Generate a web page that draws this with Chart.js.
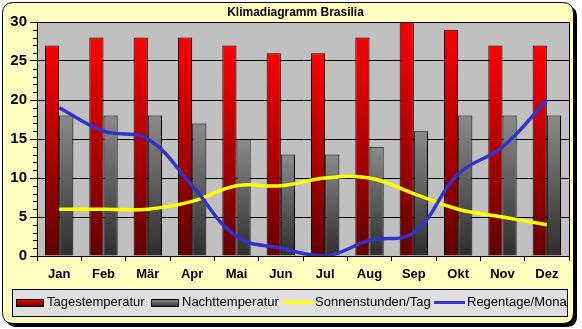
<!DOCTYPE html>
<html>
<head>
<meta charset="utf-8">
<script src="https://cdn.jsdelivr.net/npm/chart.js@4"></script>
<style>
html,body{margin:0;padding:0;background:#fff;}
#wrap{width:582px;height:329px;position:relative;}
</style>
</head>
<body>
<div id="wrap"><canvas id="c" width="582" height="329"></canvas></div>
<script>
const months = ['Jan','Feb','Mär','Apr','Mai','Jun','Jul','Aug','Sep','Okt','Nov','Dez'];
const tagestemperatur = [27, 28, 28, 28, 27, 26, 26, 28, 30, 29, 27, 27];
const nachttemperatur = [18, 18, 18, 17, 15, 13, 13, 14, 16, 18, 18, 18];
const sonnenstunden = [6, 6, 6, 7, 9, 9, 10, 10, 8, 6, 5, 4];
const regentage = [19, 16, 15, 9, 2.5, 1, 0, 2, 3, 10.5, 14, 20];
const seriesNames = ['Tagestemperatur','Nachttemperatur','Sonnenstunden/Tag','Regentage/Monat'];
const chartTitle = 'Klimadiagramm Brasilia';
const yTicks = [0, 5, 10, 15, 20, 25, 30];

const FONT = '"Liberation Sans", Arial, sans-serif';

function barGradient(top, bottom) {
  return (ctx) => {
    const chart = ctx.chart;
    if (!chart.chartArea || ctx.raw === undefined) return top;
    const y = chart.scales.y;
    const y0 = y.getPixelForValue(ctx.raw);
    const y1 = y.getPixelForValue(0);
    if (!isFinite(y0) || !isFinite(y1) || y0 === y1) return top;
    const g = chart.ctx.createLinearGradient(0, y0, 0, y1);
    g.addColorStop(0, top);
    g.addColorStop(1, bottom);
    return g;
  };
}

function roundRect(c, x, y, w, h, r) {
  c.beginPath();
  c.moveTo(x + r, y);
  c.lineTo(x + w - r, y);
  c.quadraticCurveTo(x + w, y, x + w, y + r);
  c.lineTo(x + w, y + h - r);
  c.quadraticCurveTo(x + w, y + h, x + w - r, y + h);
  c.lineTo(x + r, y + h);
  c.quadraticCurveTo(x, y + h, x, y + h - r);
  c.lineTo(x, y + r);
  c.quadraticCurveTo(x, y, x + r, y);
  c.closePath();
}

const framePlugin = {
  id: 'frame',
  beforeDraw(chart) {
    const c = chart.ctx;
    const a = chart.chartArea;
    c.save();
    c.fillStyle = '#000';
    roundRect(c, 6, 6, 571, 321, 11);
    c.fill();
    c.fillStyle = '#FFFFC0';
    roundRect(c, 2.5, 2.5, 571, 321, 11);
    c.fill();
    c.lineWidth = 1;
    c.strokeStyle = '#000';
    c.stroke();
    c.fillStyle = '#C0C0C0';
    c.fillRect(a.left, a.top, a.right - a.left, a.bottom - a.top);
    // title
    c.fillStyle = '#000';
    c.font = 'bold 12px ' + FONT;
    c.textAlign = 'center';
    c.textBaseline = 'middle';
    c.fillText(chartTitle, 295.5, 13);
    c.restore();
  },
  afterDraw(chart) {
    const c = chart.ctx;
    const a = chart.chartArea;
    const ys = chart.scales.y;
    c.save();
    c.strokeStyle = '#000';
    c.lineWidth = 1;
    // minor ticks
    for (let v = ys.min; v <= ys.max; v++) {
      if (v % 5 === 0) continue;
      const py = Math.round(ys.getPixelForValue(v)) + 0.5;
      c.beginPath();
      c.moveTo(a.left - 4, py);
      c.lineTo(a.left, py);
      c.stroke();
    }
    c.strokeRect(Math.round(a.left) + 0.5, Math.round(a.top) + 0.5, Math.round(a.right - a.left), Math.round(a.bottom - a.top));
    // legend box
    c.fillStyle = '#E0E0E0';
    c.fillRect(12, 289, 555, 27);
    c.strokeRect(12.5, 289.5, 555, 27);
    c.beginPath();
    c.rect(13, 290, 554, 26);
    c.clip();
    const cy = 302.5;
    c.font = '13px ' + FONT;
    c.textBaseline = 'middle';
    c.textAlign = 'left';
    let g = c.createLinearGradient(0, 299, 0, 306);
    g.addColorStop(0, '#FF0000'); g.addColorStop(1, '#700000');
    c.fillStyle = g;
    c.fillRect(16, 299, 27, 7);
    c.strokeRect(16.5, 299.5, 27, 7);
    c.fillStyle = '#000';
    c.fillText(seriesNames[0], 47, cy);
    g = c.createLinearGradient(0, 299, 0, 306);
    g.addColorStop(0, '#909090'); g.addColorStop(1, '#383838');
    c.fillStyle = g;
    c.fillRect(151, 299, 27, 7);
    c.strokeRect(151.5, 299.5, 27, 7);
    c.fillStyle = '#000';
    c.fillText(seriesNames[1], 182, cy);
    c.fillStyle = '#FFFF00';
    c.fillRect(283, 301, 30, 3);
    c.fillStyle = '#000';
    c.fillText(seriesNames[2], 315, cy);
    c.fillStyle = '#3333CC';
    c.fillRect(434, 301, 31, 3);
    c.fillStyle = '#000';
    c.fillText(seriesNames[3], 467, cy);
    c.restore();
  }
};

new Chart(document.getElementById('c'), {
  data: {
    labels: months,
    datasets: [
      { type: 'bar', label: seriesNames[0], data: tagestemperatur, order: 2,
        backgroundColor: barGradient('#FF0000', '#620000'), borderColor: '#000', borderWidth: 1,
        barPercentage: 1, categoryPercentage: 0.64 },
      { type: 'bar', label: seriesNames[1], data: nachttemperatur, order: 2,
        backgroundColor: barGradient('#8A8A8A', '#2E2E2E'), borderColor: '#000', borderWidth: 1,
        barPercentage: 1, categoryPercentage: 0.64 },
      { type: 'line', label: seriesNames[2], data: sonnenstunden, order: 1,
        borderColor: '#FFFF00', borderWidth: 3.5, pointRadius: 0, tension: 0.4, fill: false },
      { type: 'line', label: seriesNames[3], data: regentage, order: 0,
        borderColor: '#3333CC', borderWidth: 3.5, pointRadius: 0, tension: 0.4, fill: false }
    ]
  },
  options: {
    responsive: false,
    animation: false,
    devicePixelRatio: 1,
    layout: { padding: { left: 0, right: 13, top: 22, bottom: 43 } },
    plugins: {
      legend: { display: false },
      tooltip: { enabled: false },
      title: { display: false }
    },
    scales: {
      x: {
        offset: true,
        grid: { offset: true, drawOnChartArea: false, drawTicks: true, tickLength: 5, color: '#000', tickColor: '#000' },
        border: { color: '#000' },
        ticks: { color: '#000', font: { family: FONT, size: 13, weight: 'bold' }, padding: 6, maxRotation: 0 },
        afterFit(s) { s.height = 30; }
      },
      y: {
        min: 0, max: 30,
        grid: { color: '#000', tickColor: '#000', tickLength: 7, drawTicks: true },
        border: { color: '#000' },
        ticks: {
          stepSize: 5, color: '#000', padding: 3,
          font: { family: FONT, size: 15, weight: 'bold' },
          callback: (v) => yTicks.includes(v) ? String(v) : ''
        },
        afterFit(s) { s.width = 37; }
      }
    }
  },
  plugins: [framePlugin]
});
</script>
</body>
</html>
